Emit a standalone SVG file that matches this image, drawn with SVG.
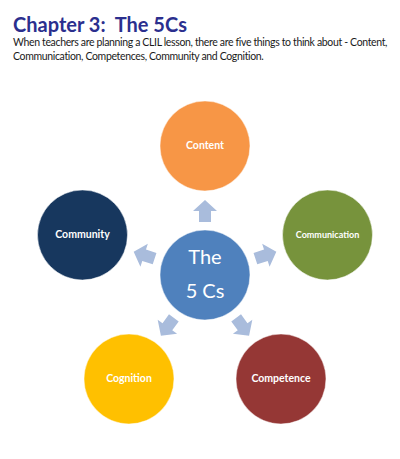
<svg xmlns="http://www.w3.org/2000/svg" width="400" height="459" viewBox="0 0 400 459">
  <style>
    .title { font-family: Lato, "Liberation Sans", sans-serif; font-weight: bold; font-size: 20px; fill: #2b2f8e; white-space: pre; }
    .body { font-family: Lato, "Liberation Sans", sans-serif; font-size: 10.5px; letter-spacing: -0.35px; fill: #1a1a1a; }
    .lbl { font-family: Lato, "Liberation Sans", sans-serif; font-weight: bold; font-size: 10.5px; fill: #ffffff; text-anchor: middle; }
    .ctr { font-family: Lato, "Liberation Sans", sans-serif; font-size: 20px; fill: #ffffff; text-anchor: middle; }
    .arrow { fill: #a9bcdc; }
    circle { stroke: #ffffff; stroke-opacity: 0.5; stroke-width: 1; }
  </style>
  <defs>
    <polygon id="arr" class="arrow" points="205,200 217,211 211,211 211,222 199,222 199,211 193,211"/>
  </defs>
  <rect width="400" height="459" fill="#ffffff"/>
  <g id="header">
    <text class="title" x="13" y="32" xml:space="preserve">Chapter 3:  The 5Cs</text>
    <text class="body" x="13" y="46">When teachers are planning a CLIL lesson, there are five things to think about - Content,</text>
    <text class="body" x="13" y="60">Communication, Competences, Community and Cognition.</text>
  </g>
  <g id="connectors">
    <use href="#arr"/>
    <use href="#arr" transform="rotate(72 205 275)"/>
    <use href="#arr" transform="rotate(144 205 275)"/>
    <use href="#arr" transform="rotate(216 205 275)"/>
    <use href="#arr" transform="rotate(288 205 275)"/>
  </g>
  <g id="center">
    <circle cx="205" cy="275" r="45" fill="#4f81bd"/>
    <text class="ctr" x="205" y="264">The</text>
    <text class="ctr" x="205" y="298">5 Cs</text>
  </g>
  <g id="content">
    <circle cx="205" cy="146" r="45" fill="#f79646"/>
    <text class="lbl" x="205" y="149">Content</text>
  </g>
  <g id="communication">
    <circle cx="327.5" cy="235" r="45" fill="#77933c"/>
    <text class="lbl" x="327.5" y="238" style="font-size:9px">Communication</text>
  </g>
  <g id="competence">
    <circle cx="281" cy="379" r="45" fill="#953735"/>
    <text class="lbl" x="281" y="382">Competence</text>
  </g>
  <g id="cognition">
    <circle cx="129" cy="379" r="45" fill="#ffc000"/>
    <text class="lbl" x="129" y="382">Cognition</text>
  </g>
  <g id="community">
    <circle cx="82.5" cy="235" r="45" fill="#17375e"/>
    <text class="lbl" x="82.5" y="238">Community</text>
  </g>
</svg>
